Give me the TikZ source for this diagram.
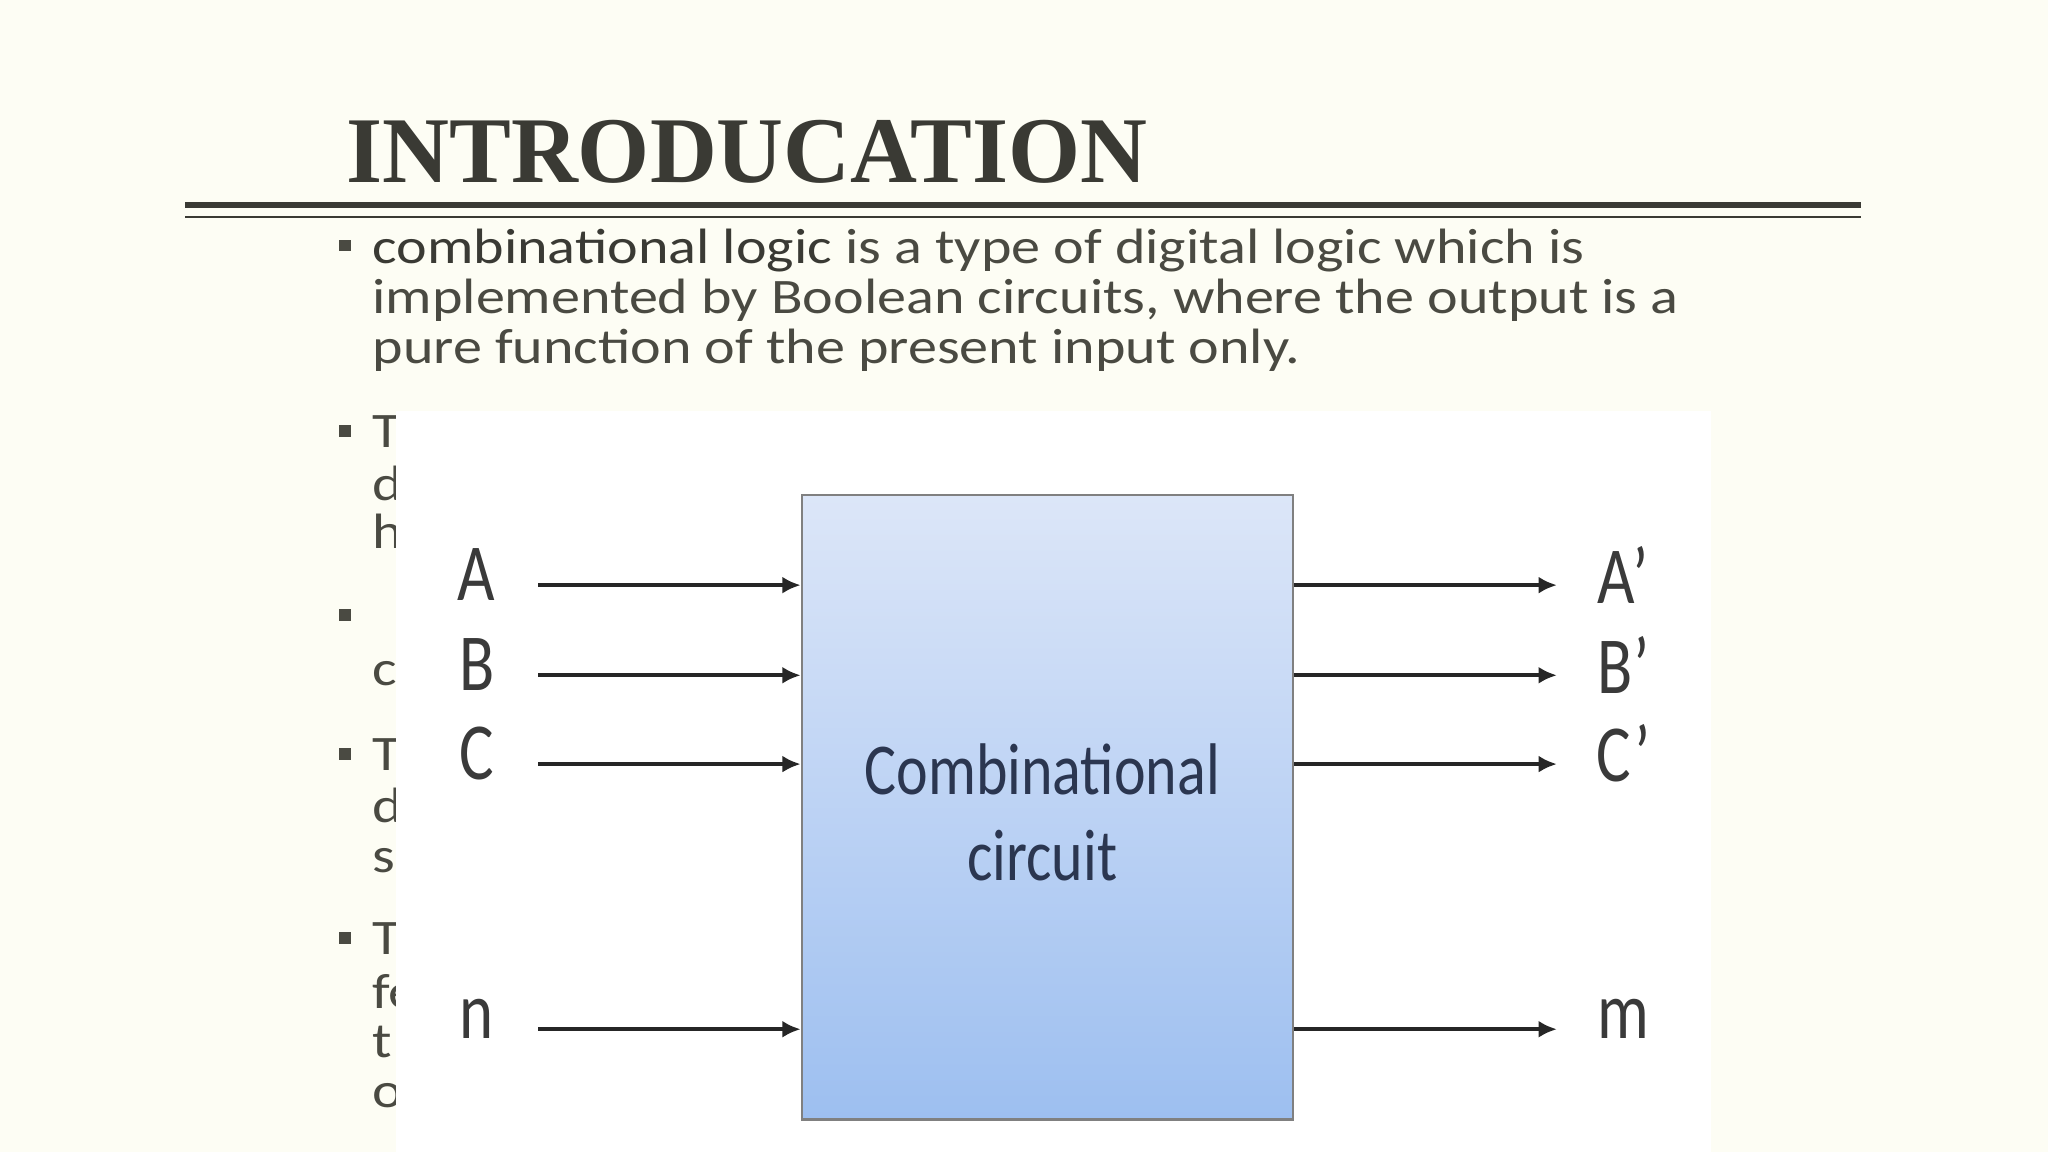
\documentclass[tikz,border=0pt]{standalone}
\usepackage{fontspec}
\setmainfont{Carlito}
\newfontfamily\titlefont{Liberation Serif}
\usetikzlibrary{arrows.meta}
\definecolor{bg}{HTML}{FDFDF4}
\definecolor{txt}{HTML}{4A4A42}
\definecolor{dark}{HTML}{3A3A34}
\definecolor{lbl}{HTML}{3A3A3A}
\definecolor{boxtop}{HTML}{DCE6F8}
\definecolor{boxbot}{HTML}{9DBFF0}
\definecolor{boxtxt}{HTML}{2B3650}
\tikzset{
 body/.style={anchor=base west,inner sep=0pt,text=txt,font=\fontsize{38}{38}\selectfont,xscale=1.17},
 bul/.style={fill=txt,minimum size=9pt,inner sep=0pt},
 sig/.style={line width=2.8pt,draw=black!85,-{Latex[length=14pt,width=13pt]}},
 lab/.style={text=lbl,font=\fontsize{62}{62}\selectfont,inner sep=0pt,xscale=0.8},
}
\begin{document}
\begin{tikzpicture}[x=1pt,y=-1pt]
\fill[bg] (0,0) rectangle (1568,882);
\useasboundingbox (0,0) rectangle (1568,882);
\node[anchor=base west,inner sep=0pt,text=dark,font=\titlefont\bfseries\fontsize{72}{72}\selectfont,xscale=0.985] (title) at (265,140) {INTRODUCATION};
\draw[dark,line width=4pt] (142,157) coordinate (l1) -- (1425,157) coordinate (r1);
\draw[dark,line width=1.2pt] (142,166) coordinate (l2) -- (1425,166) coordinate (r2);
\node[bul] (b1) at (264,188) {};
\node[body] (t1) at (285,202) {\textcolor{dark}{combinational logic} is a type of digital logic which is};
\node[body] (t2) at (285,240) {implemented by Boolean circuits, where the output is a};
\node[body] (t3) at (285,278) {pure function of the present input only.};
\foreach \y in {330,471,577,718}{\node[bul] at (264,\y) {};}
\foreach \y/\s in {343/T,383/d,420/h,525/c,590/T,630/d,668/s,731/T,772/fe,810/t,848/o}{\node[body] at (285,\y) {\s};}
\fill[white] (303,315) rectangle (1310,882);
\node[draw=black!50,line width=2pt,minimum width=376pt,minimum height=478pt,inner sep=0pt,
 top color=boxtop,bottom color=boxbot] (box) at (802,618) {};
\node[text=boxtxt,font=\fontsize{56}{66}\selectfont,align=center,xscale=0.82] (bt) at (798,622) {Combinational\\circuit};
\foreach \n/\y/\a/\b in {a/448/A/A’,b/517/B/B’,c/585/C/C’,n/788/n/m}{
 \node[lab] (in\n) at (365,\y-8) {\a};
 \node[lab] (out\n) at (1243,\y-8) {\b};
 \coordinate (s\n) at (412,\y);
 \coordinate (e\n) at (1192,\y);
 \draw[sig] (s\n) -- (box.west |- s\n);
 \draw[sig] (box.east |- s\n) -- (e\n);
}
\end{tikzpicture}
\end{document}
